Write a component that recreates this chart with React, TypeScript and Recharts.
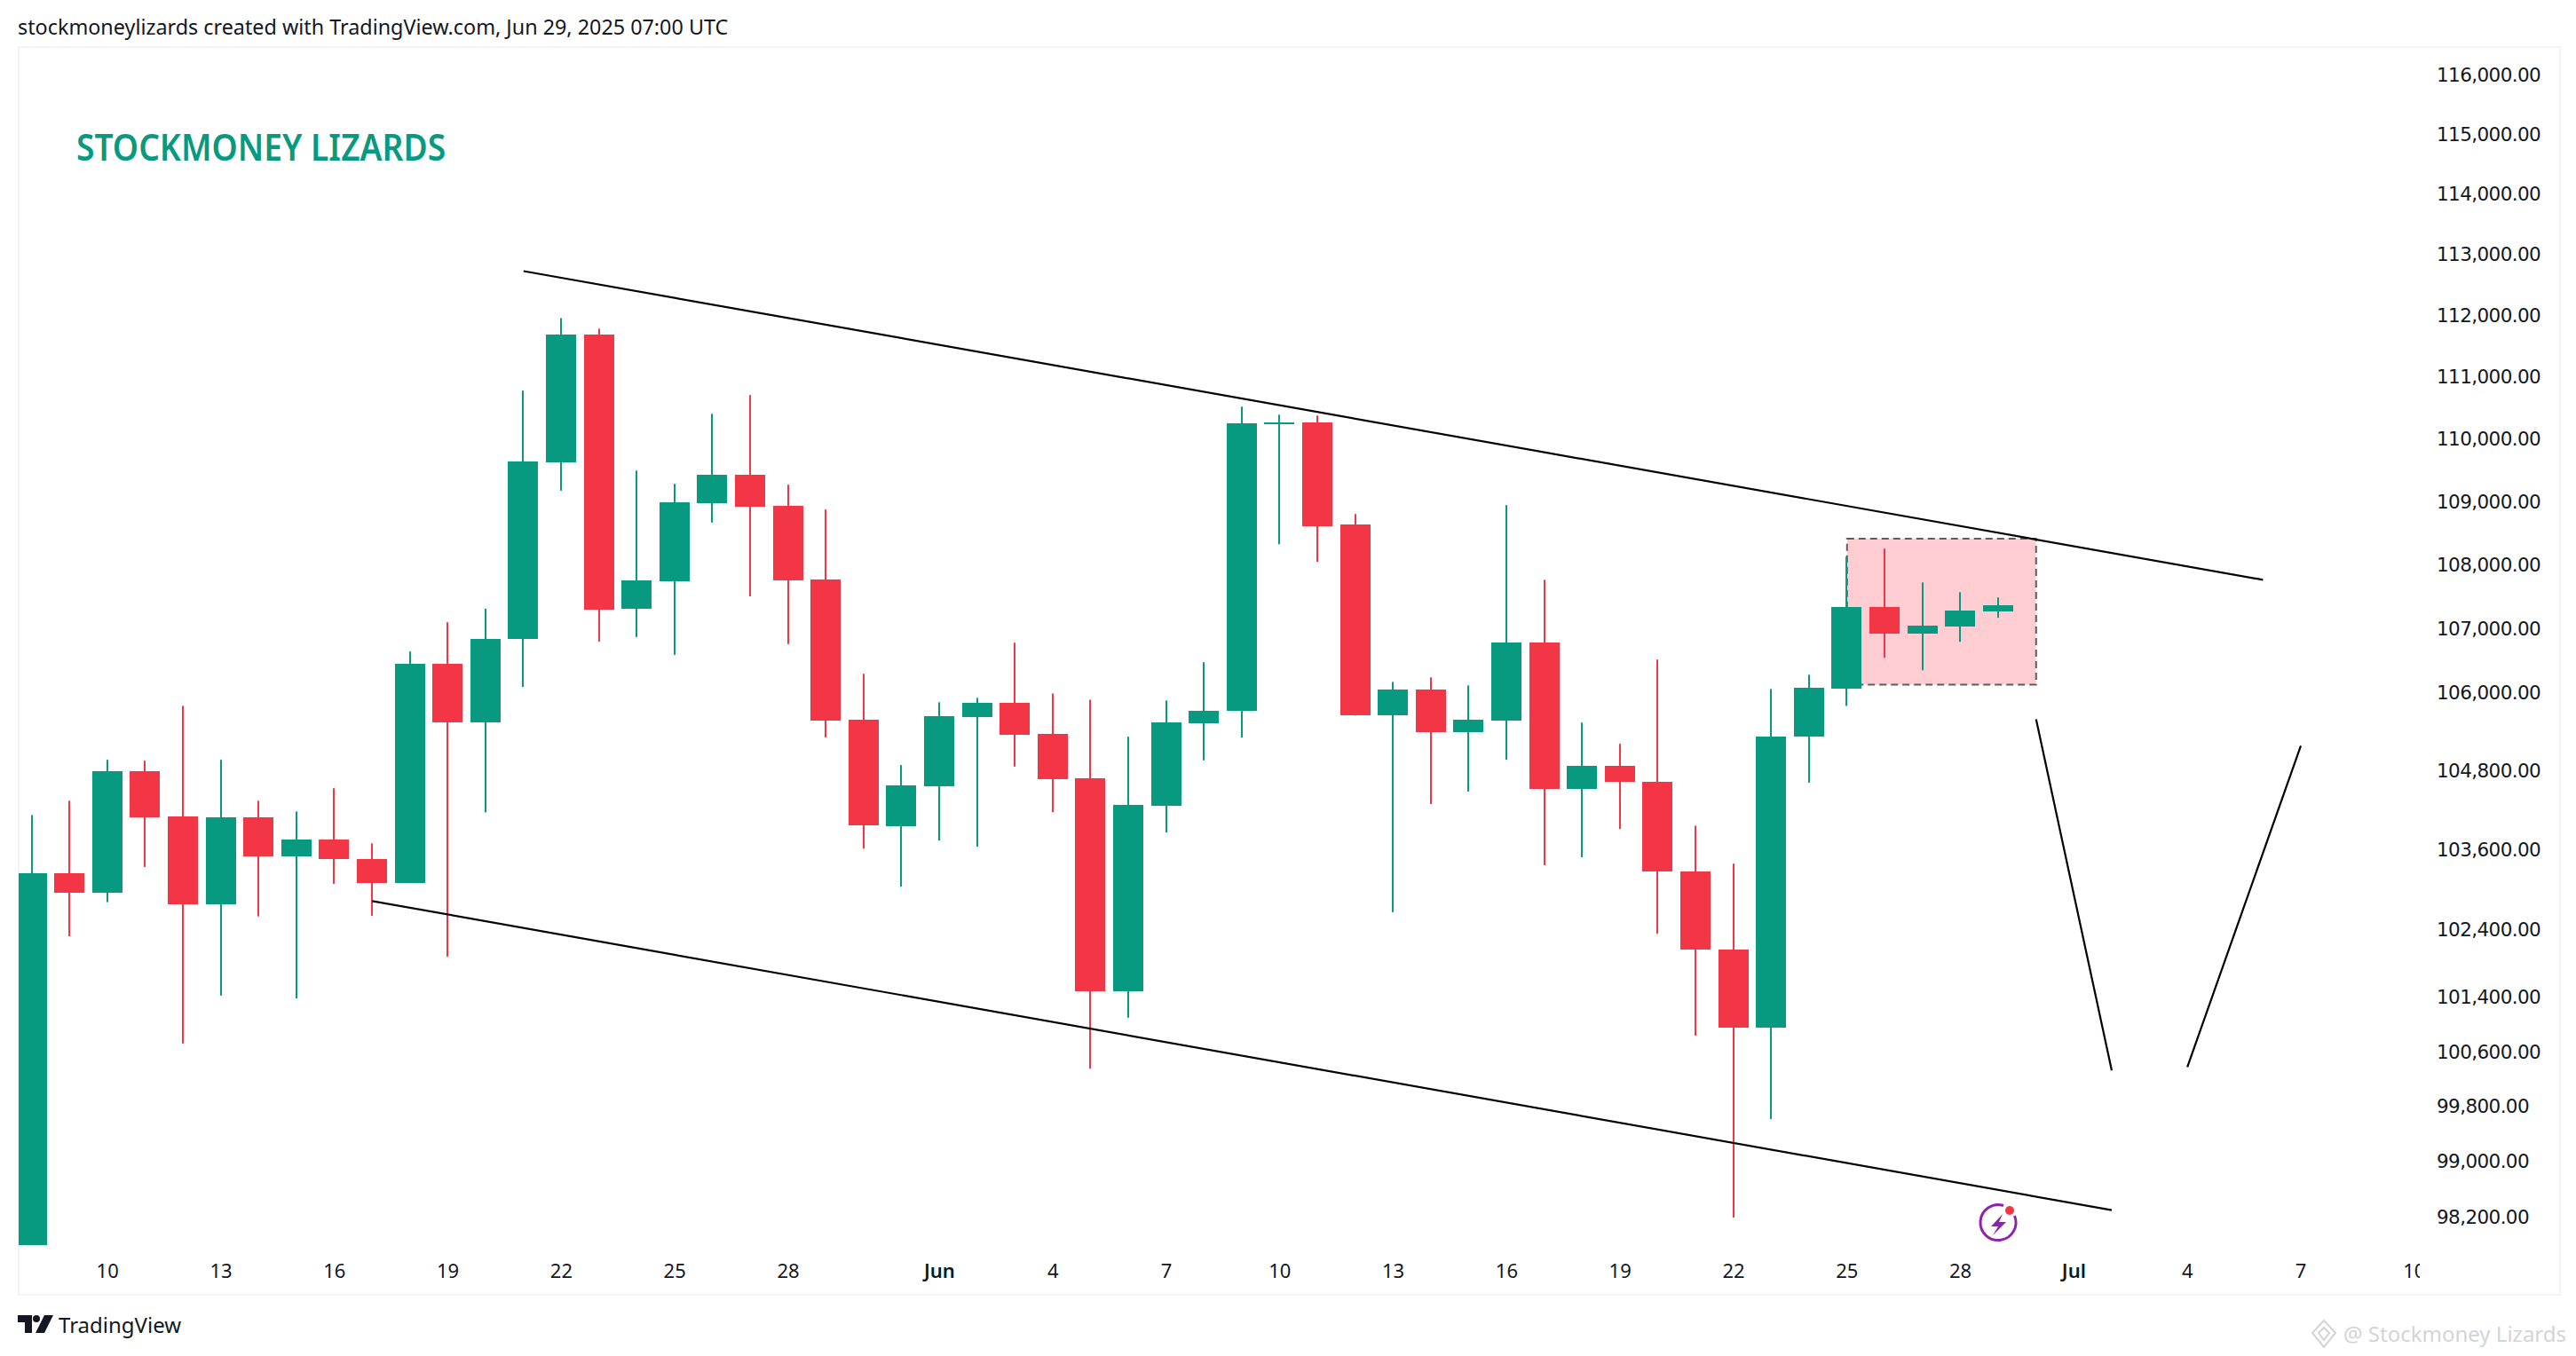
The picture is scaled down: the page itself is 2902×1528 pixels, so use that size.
import React from 'react';
import { ComposedChart, Bar, XAxis, YAxis, ReferenceArea, ReferenceLine } from 'recharts';

// BTC daily candles from May 8 2025, index = days since May 8
const opens = [
  97800, 103247, 102957, 104795, 104102, 102775, 104088, 103493, 103754, 103462, 103105, 106450, 105547, 106831,
  109624, 111680, 107296, 107738, 108975, 109422, 108928, 107762, 105583, 103953, 104568, 105628, 105841, 105365,
  104686, 101489, 104269, 105533, 105715, 110240, 110270, 108632, 105651, 106046, 105393, 105573, 106779, 104527,
  104876, 104640, 103278, 102106, 100953, 105320, 106064, 107333, 106922, 107028, 107268,
];
const closes = [
  103247, 102957, 104795, 104091, 102775, 104088, 103493, 103754, 103453, 103105, 106450, 105547, 106836, 109633,
  111680, 107296, 107748, 108985, 109422, 108919, 107752, 105573, 103967, 104577, 105637, 105841, 105356, 104676,
  101489, 104278, 105542, 105719, 110244, 110270, 108618, 105651, 106046, 105393, 105583, 106779, 104527, 104876,
  104636, 103278, 102106, 100953, 105325, 106073, 107333, 106922, 107042, 107278, 107361,
];
const highs = [
  104129, 104346, 104971, 104958, 105800, 104971, 104346, 104183, 104536, 103700, 106641, 107098, 107308, 110775,
  111953, 111780, 109492, 109281, 110402, 110703, 109267, 108872, 106295, 104890, 105855, 105923, 106779, 105990,
  105895, 105325, 105882, 106475, 110517, 110387, 110373, 108801, 106170, 106240, 106115, 108942, 107762, 105542,
  105216, 106516, 103967, 103394, 106060, 106281, 108125, 108252, 107720, 107568, 107485,
];
const lows = [
  97800, 102306, 102815, 103345, 100718, 101424, 102601, 101383, 103090, 102611, 103105, 102000, 104169, 106091,
  109172, 106797, 106867, 106590, 108665, 107503, 106756, 105315, 103620, 103048, 103744, 103651, 104867, 104174,
  100348, 101097, 103864, 104962, 105311, 108322, 108044, 105651, 102665, 104296, 104486, 104971, 103371, 103491,
  103917, 102342, 100835, 98194, 99615, 104622, 105800, 106544, 106350, 106793, 107167,
];

const xTicks = [2, 5, 8, 11, 14, 17, 20, 24, 27, 30, 33, 36, 39, 42, 45, 48, 51, 54, 57, 60, 63];
const xTickLabels = ['10', '13', '16', '19', '22', '25', '28', 'Jun', '4', '7', '10', '13', '16', '19', '22', '25', '28', 'Jul', '4', '7', '10'];
const yTicks = [
  116000, 115000, 114000, 113000, 112000, 111000, 110000, 109000, 108000, 107000, 106000, 104800, 103600, 102400,
  101400, 100600, 99800, 99000, 98200,
];

// drawings: [startDay, startPrice, endDay, endPrice]
const channelTop = [13, 112723, 59, 107762];
const channelBottom = [9, 102831, 55, 98301];
const pathDown = [53, 105592, 55, 100322];
const pathUp = [57, 100374, 60, 105185];
const boxDays = [48, 53];
const boxPrices = [106129, 108411];

const GREEN = '#089981';
const RED = '#F23645';
const FONT = '"DejaVu Sans", sans-serif';
const TEXT_FONT = '"Noto Sans", sans-serif';

const rows = opens.map((open, i) => ({
  day: i,
  open,
  close: closes[i],
  high: highs[i],
  low: lows[i],
  range: [lows[i], highs[i]],
}));

const Candle: React.FC<any> = ({ x, y, width, height, payload }) => {
  const { open, close, high, low } = payload;
  const color = close >= open ? GREEN : RED;
  const span = Math.log(high) - Math.log(low);
  const top = y + (height * (Math.log(high) - Math.log(Math.max(open, close)))) / span;
  const bottom = y + (height * (Math.log(high) - Math.log(Math.min(open, close)))) / span;
  return (
    <g>
      <rect x={Math.round(x + width / 2 - 1)} y={y} width={2} height={height} fill={color} />
      <rect x={Math.round(x)} y={Math.round(top)} width={width} height={Math.max(Math.round(bottom - top), 2)} fill={color} />
    </g>
  );
};

const DayTick: React.FC<any> = ({ x, y, payload }) => {
  const label = xTickLabels[xTicks.indexOf(payload.value)];
  const isMonth = label === 'Jun' || label === 'Jul';
  return (
    <g clipPath="url(#timeClip)">
      <defs>
        <clipPath id="timeClip">
          <rect x={0} y={1402} width={2726} height={55} />
        </clipPath>
      </defs>
      <text
        x={x}
        y={y}
        textAnchor="middle"
        dominantBaseline="central"
        fontSize={22}
        fontWeight={isMonth ? 600 : 400}
        fontFamily={TEXT_FONT}
        fill="#131722"
      >
        {label}
      </text>
    </g>
  );
};

const segment = (line: number[]) => [
  { x: line[0], y: line[1] },
  { x: line[2], y: line[3] },
];

const App: React.FC = () => {
  return (
    <div style={{ position: 'absolute', left: 0, top: 0, width: 2902, height: 1528, background: '#fff', overflow: 'hidden' }}>
      <div style={{ position: 'absolute', left: 20, top: 52, width: 2861, height: 1404, border: '2px solid #f3f4f7' }} />
      <div style={{ position: 'absolute', left: 20, top: 14, fontFamily: TEXT_FONT, fontSize: 23.35, color: '#131722', whiteSpace: 'nowrap' }}>
        stockmoneylizards created with TradingView.com, Jun 29, 2025 07:00 UTC
      </div>
      <div
        style={{
          position: 'absolute',
          left: 86,
          top: 137,
          fontFamily: TEXT_FONT,
          fontWeight: 600,
          fontSize: 41,
          color: GREEN,
          whiteSpace: 'nowrap',
          transform: 'scaleX(0.907)',
          transformOrigin: 'left center',
        }}
      >
        STOCKMONEY LIZARDS
      </div>
      <ComposedChart
        width={2902}
        height={1528}
        data={rows}
        margin={{ top: 54.5, right: 20, bottom: 69.5, left: 21 }}
        style={{ position: 'absolute', left: 0, top: 0 }}
      >
        <XAxis
          dataKey="day"
          type="number"
          domain={[-0.352, 63.146]}
          allowDataOverflow
          ticks={xTicks}
          interval={0}
          height={55}
          axisLine={false}
          tickLine={false}
          tick={<DayTick />}
          tickSize={0}
          tickMargin={27.5}
        />
        <YAxis
          orientation="right"
          type="number"
          scale="log"
          domain={[97795, 116443]}
          allowDataOverflow
          ticks={yTicks}
          interval={0}
          width={156}
          axisLine={false}
          tickLine={false}
          tickSize={0}
          tickMargin={19}
          tick={{ fontSize: 21.5, fill: '#131722', fontFamily: FONT, style: { letterSpacing: -0.6 } }}
          tickFormatter={(value: number) => value.toLocaleString('en-US', { minimumFractionDigits: 2, maximumFractionDigits: 2 })}
        />
        <ReferenceArea
          x1={boxDays[0]}
          x2={boxDays[1]}
          y1={boxPrices[0]}
          y2={boxPrices[1]}
          fill="#FFCDD2"
          fillOpacity={1}
          stroke="#5d5d5d"
          strokeWidth={2}
          strokeDasharray="8 5"
        />
        <Bar dataKey="range" barSize={34} shape={<Candle />} isAnimationActive={false} />
        <ReferenceLine segment={segment(channelTop)} stroke="#000" strokeWidth={2.2} />
        <ReferenceLine segment={segment(channelBottom)} stroke="#000" strokeWidth={2.2} />
        <ReferenceLine segment={segment(pathDown)} stroke="#000" strokeWidth={2.2} />
        <ReferenceLine segment={segment(pathUp)} stroke="#000" strokeWidth={2.2} />
      </ComposedChart>
      {/* news badge */}
      <svg style={{ position: 'absolute', left: 2224, top: 1351 }} width={54} height={54} viewBox="0 0 54 54">
        <path d="M 33 7.5 A 20 20 0 1 0 45.5 19" fill="none" stroke="#8E24AA" strokeWidth={3} />
        <path d="M 32 17 L 19 31 L 27 31 L 21 41 L 36 26 L 28 26 Z" fill="#8E24AA" />
        <circle cx={40} cy={13} r={5} fill="#F23645" />
      </svg>
      {/* TradingView logo */}
      <svg style={{ position: 'absolute', left: 20, top: 1482 }} width={40} height={20} viewBox="0 0 40 20">
        <path d="M0 0 H16 V20 H8 V8 H0 Z" fill="#131722" />
        <circle cx={21} cy={4} r={4} fill="#131722" />
        <path d="M30 0 H40 L30 20 H20 Z" fill="#131722" />
      </svg>
      <div style={{ position: 'absolute', left: 66, top: 1476, fontFamily: TEXT_FONT, fontSize: 24, color: '#131722', whiteSpace: 'nowrap' }}>
        TradingView
      </div>
      {/* watermark */}
      <svg style={{ position: 'absolute', left: 2603, top: 1486 }} width={30} height={34} viewBox="0 0 30 34">
        <path d="M15 2 L28 16 L15 32 L2 16 Z M15 10 L21 16 L15 24 L9 16 Z" fill="none" stroke="#d4d4d4" strokeWidth={2} />
      </svg>
      <div style={{ position: 'absolute', left: 2640, top: 1486, fontFamily: TEXT_FONT, fontSize: 24, color: '#d4d4d4', whiteSpace: 'nowrap' }}>
        @ Stockmoney Lizards
      </div>
    </div>
  );
};

export default App;
